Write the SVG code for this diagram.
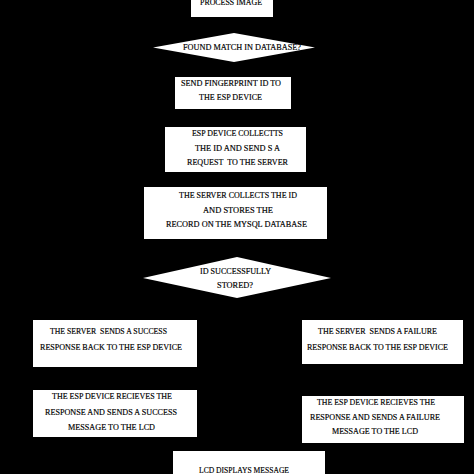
<svg xmlns="http://www.w3.org/2000/svg" width="474" height="474" viewBox="0 0 474 474">
<style>
.box{fill:#fff;stroke:none}
.t{font-family:"Liberation Serif","Times New Roman",serif;font-size:7.2px;fill:#000;text-anchor:middle;stroke:#000;stroke-width:0.15;white-space:pre}
</style>
<rect x="0" y="0" width="474" height="474" fill="#000"/>
<g id="connectors"></g>
<g id="n-process">
<rect class="box" x="191" y="-2" width="82" height="19"/>
<text class="t" x="231" y="4.5" textLength="62" lengthAdjust="spacingAndGlyphs">PROCESS IMAGE</text>
</g>
<g id="n-found">
<polygon class="box" points="153,47.5 234,33 315,47.5 234,62"/>
<text class="t" x="242" y="50" textLength="118" lengthAdjust="spacingAndGlyphs">FOUND MATCH IN DATABASE?</text>
</g>
<g id="n-send">
<rect class="box" x="175" y="77" width="116" height="32"/>
<text class="t" x="231" y="85.5" textLength="100" lengthAdjust="spacingAndGlyphs">SEND FINGERPRINT ID TO</text>
<text class="t" x="230.5" y="99.5" textLength="63" lengthAdjust="spacingAndGlyphs">THE ESP DEVICE</text>
</g>
<g id="n-esp">
<rect class="box" x="165" y="127" width="141" height="45"/>
<text class="t" x="237.5" y="136" textLength="91" lengthAdjust="spacingAndGlyphs">ESP DEVICE COLLECTTS</text>
<text class="t" x="237.5" y="150.5" textLength="85" lengthAdjust="spacingAndGlyphs">THE ID AND SEND S A</text>
<text class="t" x="237.5" y="165" textLength="101" lengthAdjust="spacingAndGlyphs">REQUEST  TO THE SERVER</text>
</g>
<g id="n-server">
<rect class="box" x="144" y="187" width="183" height="52"/>
<text class="t" x="238" y="197.5" textLength="118" lengthAdjust="spacingAndGlyphs">THE SERVER COLLECTS THE ID</text>
<text class="t" x="238" y="212.5" textLength="70" lengthAdjust="spacingAndGlyphs">AND STORES THE</text>
<text class="t" x="236.5" y="226.5" textLength="141" lengthAdjust="spacingAndGlyphs">RECORD ON THE MYSQL DATABASE</text>
</g>
<g id="n-stored">
<polygon class="box" points="143,278 237,257 331,278 237,298"/>
<text class="t" x="235.5" y="273.5" textLength="71" lengthAdjust="spacingAndGlyphs">ID SUCCESSFULLY</text>
<text class="t" x="235" y="287.5" textLength="36" lengthAdjust="spacingAndGlyphs">STORED?</text>
</g>
<g id="n-success">
<rect class="box" x="33" y="320" width="164" height="47"/>
<text class="t" x="108.5" y="333.5" textLength="117" lengthAdjust="spacingAndGlyphs">THE SERVER  SENDS A SUCCESS</text>
<text class="t" x="111" y="349.5" textLength="142" lengthAdjust="spacingAndGlyphs">RESPONSE BACK TO THE ESP DEVICE</text>
</g>
<g id="n-failure">
<rect class="box" x="302" y="320" width="161" height="44"/>
<text class="t" x="377.5" y="333.5" textLength="119" lengthAdjust="spacingAndGlyphs">THE SERVER  SENDS A FAILURE</text>
<text class="t" x="377.5" y="349.5" textLength="141" lengthAdjust="spacingAndGlyphs">RESPONSE BACK TO THE ESP DEVICE</text>
</g>
<g id="n-esp-success">
<rect class="box" x="33" y="390" width="164" height="47"/>
<text class="t" x="112" y="398.5" textLength="120" lengthAdjust="spacingAndGlyphs">THE ESP DEVICE RECIEVES THE</text>
<text class="t" x="111" y="414.5" textLength="132" lengthAdjust="spacingAndGlyphs">RESPONSE AND SENDS A SUCCESS</text>
<text class="t" x="111.5" y="429.5" textLength="87" lengthAdjust="spacingAndGlyphs">MESSAGE TO THE LCD</text>
</g>
<g id="n-esp-failure">
<rect class="box" x="302" y="396" width="162" height="47"/>
<text class="t" x="376" y="404.5" textLength="118" lengthAdjust="spacingAndGlyphs">THE ESP DEVICE RECIEVES THE</text>
<text class="t" x="375" y="419.5" textLength="130" lengthAdjust="spacingAndGlyphs">RESPONSE AND SENDS A FAILURE</text>
<text class="t" x="375" y="433.5" textLength="86" lengthAdjust="spacingAndGlyphs">MESSAGE TO THE LCD</text>
</g>
<g id="n-lcd">
<rect class="box" x="173" y="451" width="152" height="25"/>
<text class="t" x="244" y="472.5" textLength="90" lengthAdjust="spacingAndGlyphs">LCD DISPLAYS MESSAGE</text>
</g>
</svg>
